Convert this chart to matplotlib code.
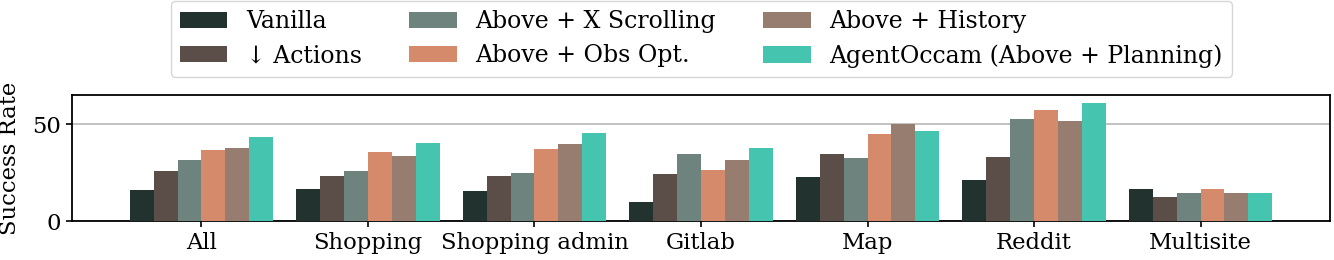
import matplotlib.pyplot as plt
import numpy as np

plt.rcParams["font.family"] = "DejaVu Serif"

categories = ["All", "Shopping", "Shopping admin", "Gitlab", "Map", "Reddit", "Multisite"]
series_names = [
    "Vanilla",
    "\u2193 Actions",
    "Above + X Scrolling",
    "Above + Obs Opt.",
    "Above + History",
    "AgentOccam (Above + Planning)",
]
vanilla = [16.0, 16.6, 15.5, 9.8, 22.8, 21.2, 16.6]
actions = [25.9, 23.3, 23.4, 24.3, 34.7, 32.8, 12.4]
x_scroll = [31.6, 25.9, 24.8, 34.7, 32.6, 52.8, 14.5]
obs_opt = [36.7, 35.7, 37.4, 26.4, 45.0, 57.4, 16.6]
history = [37.9, 33.6, 39.8, 31.6, 49.8, 51.7, 14.5]
occam = [43.1, 40.3, 45.5, 37.8, 46.6, 61.0, 14.5]
colors = ["#22332f", "#5b4e48", "#6e837e", "#d68a6c", "#977c70", "#45c4af"]

all_series = [vanilla, actions, x_scroll, obs_opt, history, occam]

fs = 16.4
fig = plt.figure(figsize=(13.34, 2.6), dpi=100)
ax = fig.add_axes([72 / 1334, 1 - 221 / 260, 1258 / 1334, 126 / 260])

x = np.arange(len(categories))
n = len(all_series)
w = 0.86 / n
for i, (vals, name, c) in enumerate(zip(all_series, series_names, colors)):
    ax.bar(x + (i - (n - 1) / 2) * w, vals, width=w, color=c, label=name, zorder=3)

ax.set_xlim(-0.777, len(categories) - 1 + 0.777)
ax.set_ylim(0, 65)
ax.set_yticks([0, 50])
ax.set_xticks(x)
ax.set_xticklabels(categories)
ax.tick_params(labelsize=fs, length=4.5, width=1.2)
ax.set_ylabel("Success Rate", fontsize=fs, labelpad=8)
ax.yaxis.grid(True, color="#b8b8b8", lw=1.2, zorder=0)
for s in ax.spines.values():
    s.set_linewidth(1.3)

ax.legend(
    ncol=3,
    loc="upper center",
    bbox_to_anchor=(701.5 / 1334, 1 - 1 / 260),
    bbox_transform=fig.transFigure,
    fontsize=17,
    labelspacing=0.45,
    borderaxespad=0,
    frameon=True,
)

fig.savefig("out.png", dpi=100)
